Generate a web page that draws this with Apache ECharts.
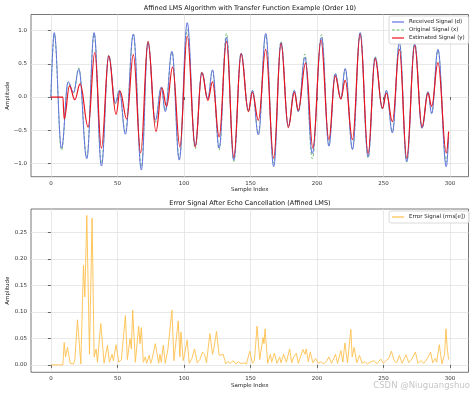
<!DOCTYPE html>
<html><head><meta charset="utf-8">
<script src="https://cdn.jsdelivr.net/npm/echarts@6/dist/echarts.min.js"></script>
<style>html,body{margin:0;padding:0;background:#fff}#c{width:474px;height:395px}</style>
</head><body><div id="c"></div>
<script>
// ---- data (sample index, value at local extrema) ----
const receivedIdx = [0,2.5,8,13,17,21,27,32.5,38,43.5,48.5,51.5,56,62,68,73,78.5,83,86,91,96.5,102.5,108.5,113.5,118,121.5,126.5,132,137.5,143,148.5,151.5,156,161.5,167.5,173,178.5,183,186,191,196.5,203.5,209,213.75,218,221.25,226.75,232.5,238.5,243.75,249.25,252.25,256.75,262,267.5,273.5,279,283.5,286.25,291,297.25,299];
const receivedVal = [0,0.97,-0.77,0.23,0.07,0.42,-0.93,0.97,-1.04,0.62,-0.09,0.1,-0.56,0.95,-1.1,0.82,-0.35,0.15,-0.22,0.69,-0.95,1.12,-0.74,0.37,-0.02,0.41,-0.77,0.9,-0.95,0.66,-0.2,0.1,-0.57,0.96,-1.05,0.82,-0.44,0.1,-0.22,0.6,-0.85,0.9,-0.74,0.35,-0.02,0.43,-0.79,0.97,-0.9,0.6,-0.17,0.1,-0.54,0.82,-0.97,0.8,-0.47,0.08,-0.25,0.72,-1.05,-0.6];

const originalIdx = receivedIdx;
const originalVal = [0,0.95,-0.8,0.22,0.06,0.44,-0.9,0.95,-1.0,0.63,-0.1,0.1,-0.53,0.94,-1.05,0.84,-0.38,0.14,-0.2,0.68,-0.93,1.02,-0.78,0.38,-0.03,0.4,-0.8,0.96,-0.97,0.66,-0.22,0.1,-0.55,0.93,-1.0,0.84,-0.44,0.1,-0.22,0.65,-0.93,0.94,-0.72,0.36,-0.03,0.42,-0.78,0.96,-0.92,0.61,-0.18,0.1,-0.52,0.84,-0.98,0.82,-0.47,0.08,-0.24,0.7,-0.98,-0.6];

const estimatedIdx = [0,9,10,14,18,22,28,33,38,43.5,49,52,57,62,67.5,73,79,83.5,87,91.5,97,102.5,108.5,113.5,118,121.5,126.5,132,137.5,143,148.5,151.5,156,161.5,167.5,173,178.5,183,186,191.5,197,203,209,213.75,218,221.25,226.75,232.5,238.5,243.75,249.25,252.25,256.75,262,267.5,273.5,279,283.5,286.25,291,297.25,299];
const estimatedVal = [0,0,-0.33,0.17,-0.04,0.2,-0.45,0.67,-0.77,0.62,-0.26,0.09,-0.33,0.64,-0.84,0.84,-0.52,0.14,-0.14,0.45,-0.75,0.92,-0.75,0.37,-0.05,0.23,-0.6,0.84,-0.91,0.65,-0.22,0.07,-0.35,0.72,-0.92,0.81,-0.46,0.07,-0.2,0.51,-0.77,0.86,-0.64,0.32,-0.03,0.25,-0.64,0.95,-0.85,0.58,-0.17,0.06,-0.37,0.72,-0.92,0.78,-0.45,0.06,-0.14,0.52,-0.84,-0.52];

const errorIdx = [0,9,10,11,12.5,14.5,17,18,20,22.5,24.5,25.5,27,29,31,32.5,34,35,37.5,40,42.5,44,46,47,49,51,53,56,57.5,59.5,60.5,61.5,63.5,66,67,68,69.5,71,72,74,75,76,78.5,81,82,83,84.5,86,88,91,92.5,95.75,97,97.75,99.5,102.5,104,106,108,110,112,114,115.5,117,119.5,121.5,122.5,124.5,126.5,127.5,129.5,131.5,133,135,137,139,141,143,145,147,149.5,151.5,153,155,157,159.5,160.2,161,163,165,166,168,170,172,173,175,177,179.5,181,182.5,184.5,186,189.5,191,192,193.5,195,197,199,201,203,205,207,209,211,214,215.5,218,219.5,221,223,225.5,226.5,228,230,232,234,236,238,240,243,245,248,250,252,254,256,258,260,262,264,267,269,271,274,276,278,280.5,283,285.5,287,289,290,292,294,296,297,298,299];
const errorVal = [0,0,0.042,0.015,0.033,0.003,0.002,0.01,0.085,0.002,0.188,0.128,0.282,0.02,0.277,0.015,0.03,0.005,0.078,0.003,0.037,0.005,0.02,0.008,0.038,0.005,0.01,0.093,0.01,0.05,0.03,0.103,0.005,0.073,0.04,0.07,0.005,0.015,0.003,0.018,0.003,0.01,0.04,0.003,0.02,0.005,0.037,0.003,0.03,0.103,0.008,0.083,0.015,0.062,0.008,0.047,0.003,0.012,0.03,0.004,0.01,0.024,0.02,0.004,0.059,0.02,0.03,0.063,0.018,0.02,0.02,0.002,0.006,0.003,0.008,0.002,0.006,0.002,0.004,0.002,0.026,0.003,0.008,0.073,0.01,0.052,0.04,0.068,0.003,0.02,0.005,0.022,0.003,0.015,0.004,0.02,0.005,0.03,0.004,0.015,0.022,0.003,0.029,0.02,0.03,0.006,0.024,0.004,0.012,0.003,0.006,0.002,0.006,0.015,0.003,0.02,0.003,0.027,0.005,0.041,0.004,0.067,0.015,0.033,0.004,0.018,0.003,0.006,0.002,0.005,0.008,0.002,0.011,0.003,0.008,0.012,0.026,0.008,0.004,0.018,0.003,0.019,0.004,0.01,0.024,0.003,0.008,0.003,0.012,0.024,0.004,0.012,0.005,0.038,0.002,0.02,0.068,0.03,0.01];

const xTicks = [0,50,100,150,200,250,300];
const yTicksTop = [-1.0,-0.5,0.0,0.5,1.0];
const yTicksBottom = [0,0.05,0.10,0.15,0.20,0.25];

// ---- chart ----
const FONT = 'DejaVu Sans';
const pairs = (a,b) => a.map((v,i)=>[v,b[i]]);
const minus = s => s.replace('-', '\u2212');
const LINE_ICON = 'path://M0,0h12v1.2h-12z';
const DASH_ICON = 'path://M0,0h3v1.2h-3zM4.5,0h3v1.2h-3zM9,0h3v1.2h-3z';

function xAx(g){
  return {type:'value', gridIndex:g, min:-14.95, max:313.95,
    name:'Sample Index', nameLocation:'middle', nameGap:10, nameMoveOverlap:false,
    nameTextStyle:{fontFamily:FONT, fontSize:5.5, color:'#222'},
    axisLine:{show:false},
    axisTick:{show:true, length:3, customValues:xTicks, lineStyle:{color:'#444', width:0.8}},
    axisLabel:{customValues:xTicks, fontFamily:FONT, fontSize:5.5, color:'#333', margin:3.5,
      formatter:v=>minus(String(Math.round(v)))},
    splitLine:{show:true, lineStyle:{color:'#e2e2e2', width:0.8}}};
}
function yAx(g,min,max,ticks,dec){
  return {type:'value', gridIndex:g, min:min, max:max,
    name:'Amplitude', nameLocation:'middle', nameGap:20, nameMoveOverlap:false,
    nameTextStyle:{fontFamily:FONT, fontSize:5.5, color:'#222'},
    axisLine:{show:false},
    axisTick:{show:true, length:3, customValues:ticks, lineStyle:{color:'#444', width:0.8}},
    axisLabel:{customValues:ticks, fontFamily:FONT, fontSize:5.5, color:'#333', margin:4,
      formatter:v=>minus(v.toFixed(dec))},
    splitLine:{show:true, lineStyle:{color:'#e2e2e2', width:0.8}}};
}
const legendBase = {orient:'vertical', left:389, itemWidth:12, itemHeight:1.2, itemGap:2,
  padding:[3,4,3,3], backgroundColor:'rgba(255,255,255,0.85)',
  borderColor:'#d0d0d0', borderWidth:0.8, borderRadius:2,
  textStyle:{fontFamily:FONT, fontSize:5.5, color:'#222'}};

const chart = echarts.init(document.getElementById('c'), null, {renderer:'canvas'});
chart.setOption({
  animation:false,
  backgroundColor:'#fff',
  title:[
    {text:'Affined LMS Algorithm with Transfer Function Example (Order 10)', left:250, top:5, padding:0, textAlign:'center',
     textStyle:{fontFamily:FONT, fontSize:6.5, fontWeight:'normal', color:'#111'}},
    {text:'Error Signal After Echo Cancellation (Affined LMS)', left:250, top:200, padding:0, textAlign:'center',
     textStyle:{fontFamily:FONT, fontSize:6.5, fontWeight:'normal', color:'#111'}}
  ],
  grid:[
    {left:31, top:14.5, width:437.5, height:162.2, outerBoundsMode:'none', containLabel:false, show:true, borderColor:'#555', borderWidth:0.8, backgroundColor:'transparent'},
    {left:31, top:209, width:437.5, height:163.3, outerBoundsMode:'none', containLabel:false, show:true, borderColor:'#555', borderWidth:0.8, backgroundColor:'transparent'}
  ],
  xAxis:[xAx(0), xAx(1)],
  yAxis:[yAx(0,-1.2,1.244,yTicksTop,1), yAx(1,-0.014,0.294,yTicksBottom,2)],
  legend:[
    Object.assign({}, legendBase, {top:16, data:[
      {name:'Received Signal (d)', icon:LINE_ICON},
      {name:'Original Signal (x)', icon:DASH_ICON},
      {name:'Estimated Signal (y)', icon:LINE_ICON}]}),
    Object.assign({}, legendBase, {top:211, data:[{name:'Error Signal (rms[e])', icon:LINE_ICON}]})
  ],
  series:[
    {name:'Original Signal (x)', type:'line', xAxisIndex:0, yAxisIndex:0, data:pairs(originalIdx,originalVal),
     symbol:'none', smooth:0.4, smoothMonotone:'x', lineStyle:{color:'#66b866', width:0.9, type:[3,2]}, itemStyle:{color:'#66b866'}, z:2},
    {name:'Received Signal (d)', type:'line', xAxisIndex:0, yAxisIndex:0, data:pairs(receivedIdx,receivedVal),
     symbol:'none', smooth:0.4, smoothMonotone:'x', lineStyle:{color:'#5f72e0', width:1}, itemStyle:{color:'#5f72e0'}, z:3},
    {name:'Estimated Signal (y)', type:'line', xAxisIndex:0, yAxisIndex:0, data:pairs(estimatedIdx,estimatedVal),
     symbol:'none', smooth:0.4, smoothMonotone:'x', lineStyle:{color:'#e8141e', width:1.2}, itemStyle:{color:'#e8141e'}, z:4},
    {name:'Error Signal (rms[e])', type:'line', xAxisIndex:1, yAxisIndex:1, data:pairs(errorIdx,errorVal),
     symbol:'none', lineStyle:{color:'#ffc04d', width:0.9}, itemStyle:{color:'#ffc04d'}, z:2}
  ],
  graphic:[
    {type:'text', right:4, top:381.5, style:{text:'CSDN @Niuguangshuo', fontFamily:FONT, fontSize:8.5, fill:'rgba(150,150,150,0.55)'}}
  ]
});
</script>
</body></html>
